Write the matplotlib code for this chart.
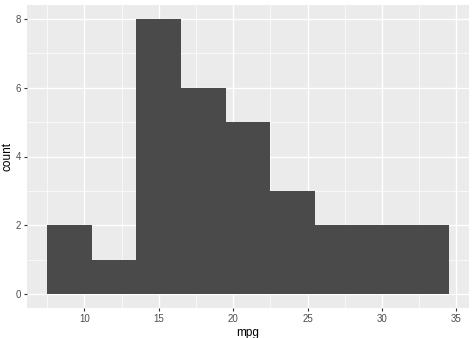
import numpy as np
import matplotlib.pyplot as plt

plt.rcParams['font.family'] = ['Liberation Sans', 'DejaVu Sans']

# histogram of mpg, binwidth 3
bin_left = [7.5, 10.5, 13.5, 16.5, 19.5, 22.5, 25.5, 28.5, 31.5]
counts = [2, 1, 8, 6, 5, 3, 2, 2, 2]
bin_width = 3

fig = plt.figure(figsize=(4.74, 3.38), dpi=100)
ax = fig.add_axes([27/474, 30/338, 442/474, 303/338])
ax.set_facecolor('#EBEBEB')

ax.bar(bin_left, counts, width=bin_width, align='edge', color='#4a4a4a', zorder=3)

ax.set_xlim(6.15, 35.85)
ax.set_ylim(-0.4, 8.4)
ax.set_xticks([10, 15, 20, 25, 30, 35])
ax.set_yticks([0, 2, 4, 6, 8])
ax.set_xticks(np.arange(7.5, 35, 5), minor=True)
ax.set_yticks([1, 3, 5, 7], minor=True)
ax.grid(which='major', color='white', linewidth=1.0, zorder=0)
ax.grid(which='minor', color='white', linewidth=0.5, zorder=0)
ax.set_axisbelow(True)

for s in ax.spines.values():
    s.set_visible(False)
ax.tick_params(which='major', length=2.5, width=0.8, color='#333333',
               labelcolor='#4D4D4D', labelsize=7, pad=2)
ax.tick_params(which='minor', length=0)

ax.set_xlabel('mpg', fontsize=8.5, color='black', labelpad=2)
ax.set_ylabel('count', fontsize=8.5, color='black')
ax.yaxis.set_label_coords(-0.031, 0.5)

fig.savefig('out.png', dpi=100)
